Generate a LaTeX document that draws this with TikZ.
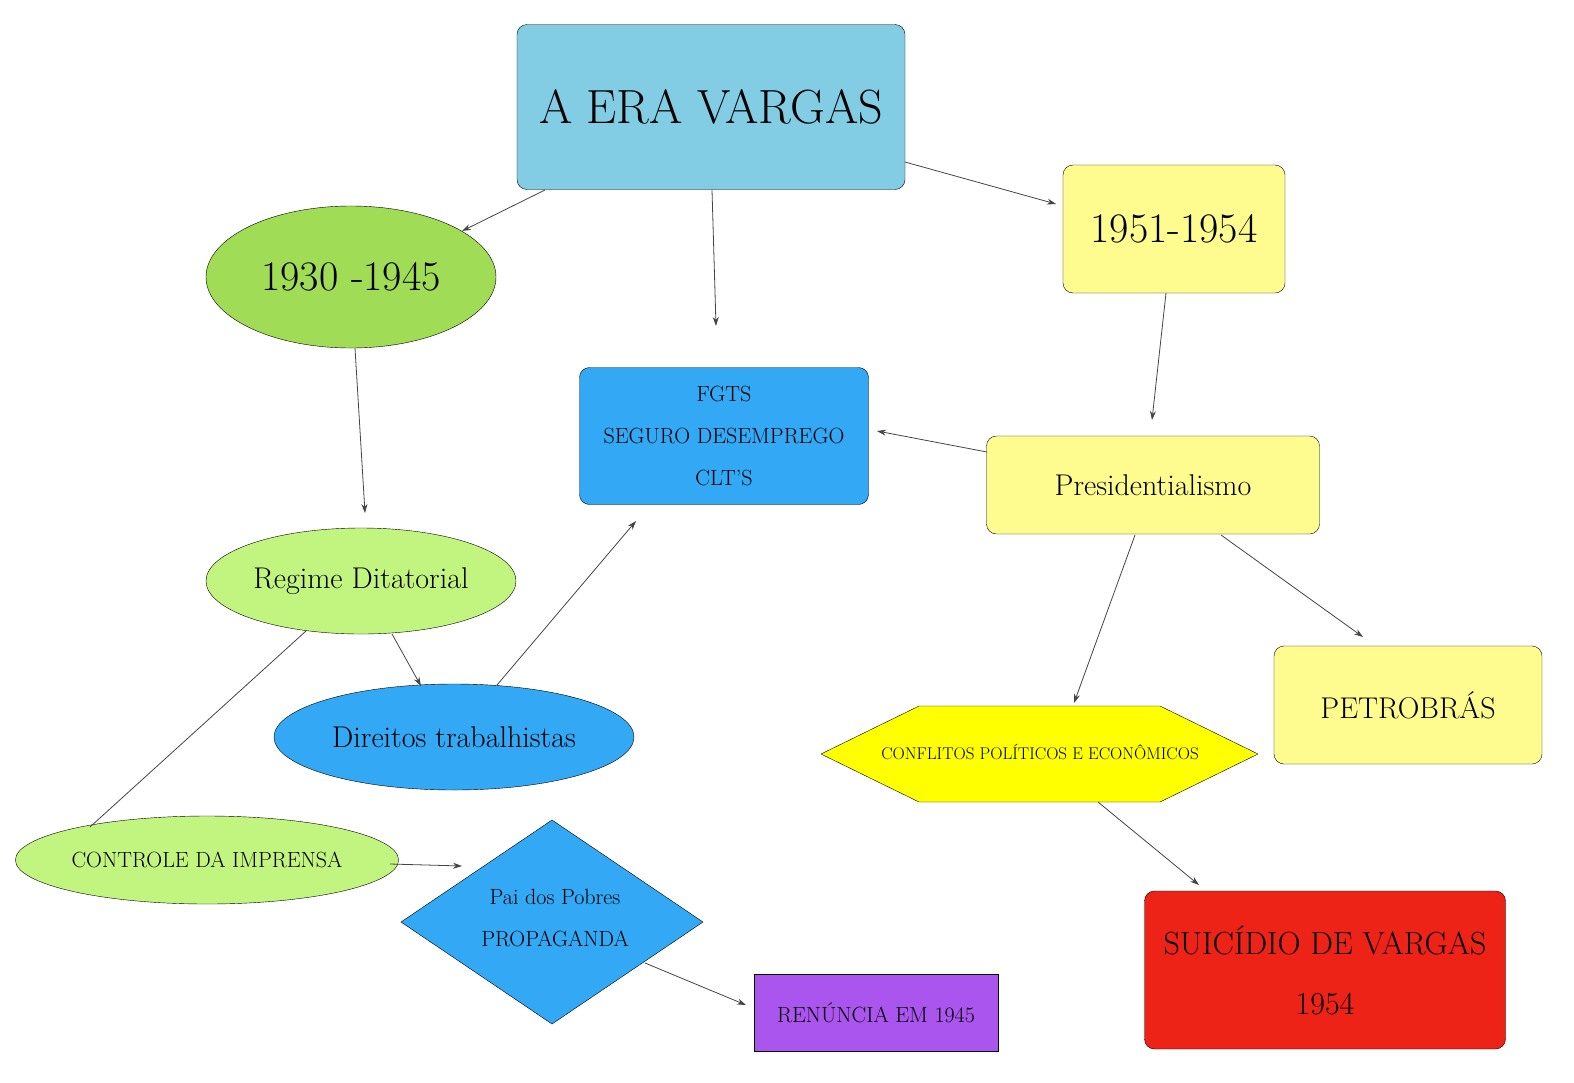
\documentclass[tikz,border=0pt]{standalone}
\usetikzlibrary{shapes.geometric,arrows.meta}
\definecolor{cTitle}{HTML}{82CCE4}
\definecolor{cGreen}{HTML}{A0DC55}
\definecolor{cLight}{HTML}{C2F57F}
\definecolor{cYel}{HTML}{FFFC8F}
\definecolor{cBlue}{HTML}{33A8F5}
\definecolor{cPur}{HTML}{AA55EE}
\definecolor{cRed}{HTML}{EE2318}
\definecolor{cHex}{HTML}{FFFF00}
\definecolor{cArr}{HTML}{444444}
\begin{document}
\begin{tikzpicture}[x=1pt,y=-1pt,
  box/.style={draw=black,rounded corners=10pt,inner sep=0,align=center},
  ell/.style={draw=black,ellipse,inner sep=0},
  arr/.style={draw=cArr,line width=0.8pt,-{Stealth[length=9pt,width=6pt]}},
  ln/.style={draw=cArr,line width=0.8pt}]
\useasboundingbox (0,0) rectangle (1574,1082);
\node[box,fill=cTitle,minimum width=388pt,minimum height=165pt,font=\fontsize{48}{50}\selectfont] (title) at (711,107) {A ERA VARGAS};
\node[ell,fill=cGreen,minimum width=290pt,minimum height=142pt,font=\fontsize{42}{44}\selectfont] (e30) at (351,277) {1930 -1945};
\node[box,fill=cYel,minimum width=222pt,minimum height=128pt,font=\fontsize{42}{44}\selectfont] (e51) at (1174,229) {1951-1954};
\node[box,fill=cBlue,minimum width=289pt,minimum height=137pt,font=\fontsize{22}{42}\selectfont] (fgts) at (724,436) {FGTS\\SEGURO DESEMPREGO\\CLT'S};
\node[box,fill=cYel,minimum width=333pt,minimum height=98pt,font=\fontsize{30}{32}\selectfont] (pres) at (1153,485) {Presidentialismo};
\node[ell,fill=cLight,minimum width=310pt,minimum height=106pt,font=\fontsize{30}{32}\selectfont] (reg) at (361,581) {Regime Ditatorial};
\node[ell,fill=cBlue,minimum width=360pt,minimum height=106pt,font=\fontsize{30}{32}\selectfont] (dir) at (454,737) {Direitos trabalhistas};
\node[ell,fill=cLight,minimum width=366pt,minimum height=88pt,font=\fontsize{22}{24}\selectfont] (ctl) at (207,860) {CONTROLE DA IMPRENSA};
\draw[fill=cBlue] (401,922) -- (552,820) -- (703,922) -- (552,1024) -- cycle;
\node[align=center,font=\fontsize{22}{42}\selectfont] (pai) at (555,918) {Pai dos Pobres\\PROPAGANDA};
\node[draw=black,fill=cPur,minimum width=244pt,minimum height=77pt,inner sep=0,font=\fontsize{22}{24}\selectfont] (ren) at (876,1013) {RENÚNCIA EM 1945};
\draw[fill=cHex] (821,754) -- (919,706) -- (1160,706) -- (1258,754) -- (1160,802) -- (919,802) -- cycle;
\node[font=\fontsize{17}{19}\selectfont] (conf) at (1040,752) {CONFLITOS POLÍTICOS E ECONÔMICOS};
\node[box,fill=cYel,minimum width=268pt,minimum height=118pt,font=\fontsize{30}{32}\selectfont] (pet) at (1408,705) {PETROBRÁS};
\node[box,fill=cRed,minimum width=361pt,minimum height=158pt,font=\fontsize{32}{60}\selectfont] (sui) at (1325,970) {SUICÍDIO DE VARGAS\\1954};
\coordinate (a1) at (545,190); \coordinate (b1) at (462,231);
\coordinate (a2) at (712,190); \coordinate (b2) at (716,326);
\coordinate (a3) at (905,162); \coordinate (b3) at (1056,204);
\coordinate (a4) at (355,348); \coordinate (b4) at (365,513);
\coordinate (a5) at (1166,293); \coordinate (b5) at (1152,420);
\coordinate (a6) at (987,452); \coordinate (b6) at (877,431);
\coordinate (a7) at (392,634); \coordinate (b7) at (421,686);
\coordinate (a8) at (306,631); \coordinate (b8) at (90,827);
\coordinate (a9) at (497,685); \coordinate (b9) at (636,521);
\coordinate (a10) at (390,864); \coordinate (b10) at (462,866);
\coordinate (a11) at (645,963); \coordinate (b11) at (746,1005);
\coordinate (a12) at (1135,535); \coordinate (b12) at (1074,703);
\coordinate (a13) at (1221,535); \coordinate (b13) at (1363,637);
\coordinate (a14) at (1098,802); \coordinate (b14) at (1199,885);
\foreach \i in {1,2,3,4,5,6,7,9,10,11,12,13,14} \draw[arr] (a\i) -- (b\i);
\draw[ln] (a8) -- (b8);
\end{tikzpicture}
\end{document}
